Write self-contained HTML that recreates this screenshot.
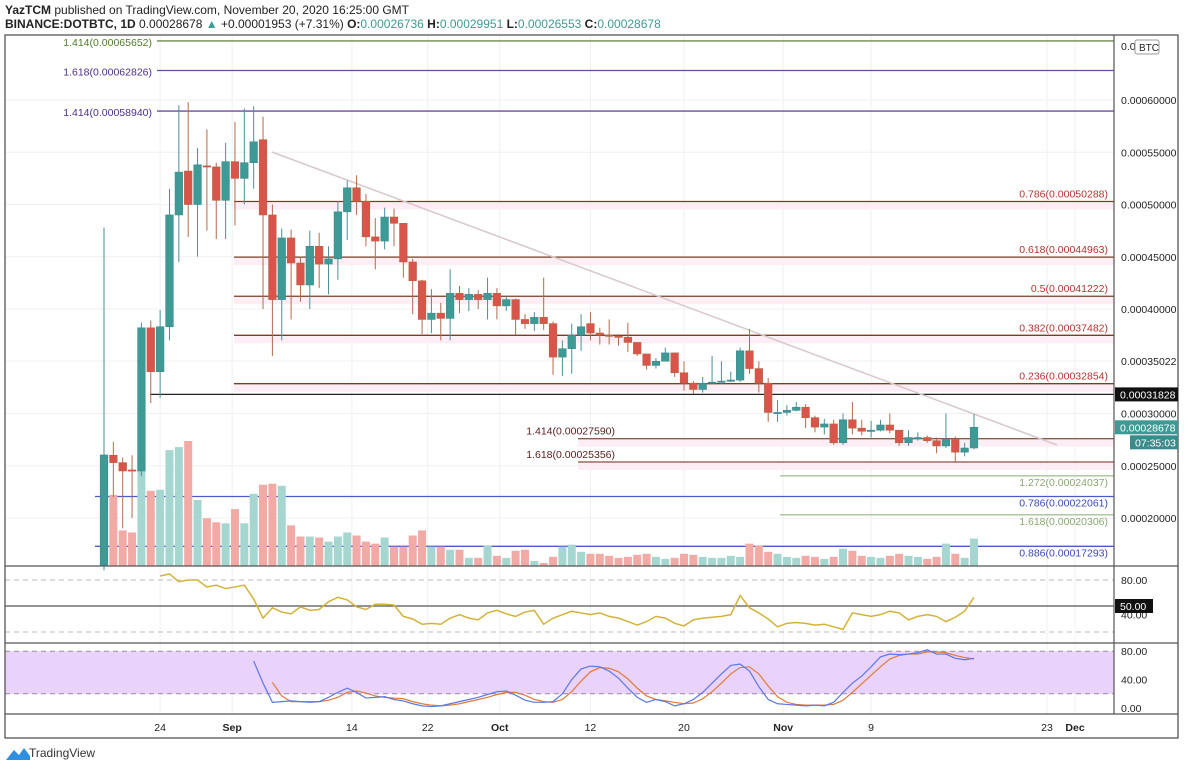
<!DOCTYPE html>
<html><head><meta charset="utf-8">
<style>
html,body{margin:0;padding:0;background:#fff;}
body{width:1185px;height:768px;overflow:hidden;font-family:"Liberation Sans",sans-serif;}
svg text{font-family:"Liberation Sans",sans-serif;}
</style></head>
<body>
<svg id="chart" width="1185" height="768" viewBox="0 0 1185 768" xmlns="http://www.w3.org/2000/svg">
  <text x="5" y="14" font-size="12" fill="#222"><tspan font-weight="bold">YazTCM</tspan> published on TradingView.com, November 20, 2020 16:25:00 GMT</text>
  <text x="5" y="28" font-size="12" fill="#222"><tspan font-weight="bold">BINANCE:DOTBTC, 1D</tspan> 0.00028678 <tspan fill="#3d9a94">▲</tspan> +0.00001953 (+7.31%) <tspan font-weight="bold">O:</tspan><tspan fill="#3d9a94">0.00026736</tspan> <tspan font-weight="bold">H:</tspan><tspan fill="#3d9a94">0.00029951</tspan> <tspan font-weight="bold">L:</tspan><tspan fill="#3d9a94">0.00026553</tspan> <tspan font-weight="bold">C:</tspan><tspan fill="#3d9a94">0.00028678</tspan></text>
  <g id="grid"></g>
  <g id="fibs"></g>
  <g id="vol"></g>
  <g id="candles"></g>
  <g id="rsi"></g>
  <g id="stoch"></g>
  <g id="axes"></g>
  <g>
    <path d="M6 760 L14 750 L19 755 L24 748 L30 756 L30 760 Z" fill="#2f8fe0"/>
    <text x="29" y="757" font-size="12" fill="#333">TradingView</text>
  </g>
</svg>
<script>
const opens=[15.5,26,25.3,24.6,24.5,38.2,34,38.3,49,53.2,50,53.7,53.6,50.4,54.1,52.5,54,56.2,49,40.9,46.8,44.4,42.3,46,44.3,44.8,49.3,51.6,50.3,46.9,46.5,48.8,48.2,44.5,42.7,39,39.6,39.1,41.5,40.9,41.4,40.9,41.5,40.3,40.9,39,38.6,39.2,38.6,35.4,36.2,37.5,38.6,37.7,37.5,37.4,37.3,36.8,35.7,34.6,35,35.8,33.9,32.9,32.3,32.9,33,33.1,33.2,36,34.3,32.9,30.1,30.1,30.3,30.6,29.6,28.7,29,27.2,29.4,28.6,28.4,28.4,28.9,28.4,27.2,27.7,27.7,27.4,26.9,27.5,26.3,26.7];
const highs=[47.8,27.3,25.8,26,38.7,38.9,39.9,51.5,59.5,59.8,55.4,57.2,54,55.9,57.9,59.2,59.4,58.4,50,47.7,47.6,45,47.5,47.3,46,50.3,52.3,52.8,51,48.7,49.7,49.6,48.2,44.8,42.8,41.9,40.6,43.8,42.2,42,41.8,43,42,41.2,41,39.5,39.7,43,38.8,37,38.6,39.5,39.7,38.2,39,37.6,38.7,36.8,35.7,35.3,36.3,35.8,35,33.1,33.5,35.5,35,34,36.3,38.1,35,33.4,31.3,30.8,31.1,30.9,29.8,29.5,29.4,30,31.1,29.4,29.3,29.4,30,28.4,28.4,28.2,27.9,27.7,30,27.8,27.2,29.95];
const lows=[15,22,19,20,24,31,31.5,37,44.5,46.9,45,47.5,46.7,46.7,48,50,51.5,40,35.5,37,39,40.7,40,42,41.4,42.8,46.6,49,46,43.8,45.7,46,43,39.5,37.6,37.7,37,37,39.6,39.8,40,39,39,39.8,37.5,38.1,37.9,38,33.7,33.6,33.8,36,37,36.6,36.6,36.5,35.9,35.5,34.2,34.3,35,33.5,32.2,31.9,32,32.9,32.8,33,33,33.8,32,29.2,29.2,29.8,30.2,28.6,28.2,28,27,27,28,27.9,27.7,28.3,28.1,26.9,26.9,27.4,27.2,26.2,26.7,25.4,25.9,26.55];
const closes=[26,25.3,24.5,24.5,38.2,34,38.3,49,53.1,50,53.8,53.6,50.4,54.1,52.5,54,56,49,40.9,46.8,44.4,42.3,46,44.3,44.8,49.3,51.6,50.3,46.9,46.5,48.8,48.2,44.5,42.7,39,39.6,39.1,41.5,40.9,41.4,40.9,41.5,40.3,40.9,39,38.6,39.2,38.6,35.4,36.2,37.5,38.3,37.7,37.5,37.4,37.3,36.8,35.7,34.6,35,35.8,33.9,32.9,32.3,32.9,33,33.1,33.2,36,34.3,32.9,30.1,30.1,30.3,30.6,29.6,28.7,29,27.2,29.4,28.6,28.3,28.4,28.9,28.4,27.2,27.7,27.7,27.4,26.9,27.5,26.3,26.7,28.68];
const volumes=[110,70,35,33,105,74,75,114,117,123,65,47,43,42,56,42,71,80,81,79,40,29,29,28,24,29,33,30,24,22,28,19,19,30,35,19,19,16,16,8,8,20,10,8,15,16,5,3,9,19,21,14,12,12,10,8,9,11,12,9,7,8,12,11,9,8,8,10,9,22,20,14,12,9,8,10,9,7,9,17,15,10,9,8,10,12,10,9,7,9,22,12,8,27];
const rsiStart=6;
const rsiValues=[84.6,87,78,80,80,72,74,70,72,74,58,36,48,43,41,49,45,46,55,60,57,49,46,52,52,51,38,35,29,30,29,36,40,36,34,42,45,41,38,43,45,29,36,40,44,42,40,42,38,36,32,28,32,38,36,30,27,34,36,37,38,40,62,48,42,35,26,30,31,30,28,29,26,23,42,40,38,40,44,42,34,38,40,38,32,37,44,60];
const kStart=16;
const kValues=[66,35,8,9,10,9,8,9,15,22,28,22,14,15,16,12,10,6,3,2,3,6,9,12,15,19,23,24,18,11,8,8,9,20,40,55,59,58,52,42,28,15,8,12,9,3,6,12,22,35,48,60,62,52,30,12,6,5,4,3,4,3,8,22,35,45,58,72,76,75,76,78,82,76,76,70,68,70];
const dStart=18;
const dValues=[36,17,9,9,9,9,11,15,22,24,21,17,15,14,13,9,6,4,3,4,6,9,12,15,19,22,22,18,12,9,8,12,23,38,51,57,56,51,41,28,17,12,10,8,6,7,13,23,35,48,57,58,48,31,16,8,5,4,4,4,5,11,22,34,46,58,69,74,76,76,79,79,78,74,71,69];
const timeTickLabels=["24","Sep","14","22","Oct","12","20","Nov","9","23","Dec"];
const timeTickIdx=[6,13.7,26.5,34.6,42.3,52,62,72.6,82,100.8,103.8];
const priceTickLabels=["0.00060000","0.00055000","0.00050000","0.00045000","0.00040000","0.00035022","0.00030000","0.00025000","0.00020000"];
const priceTickValues=[60,55,50,45,40,35.022,30,25,20];
const rsiTicks=[80,40];
const stochTicks=[80,40,0];
// fib levels: [label, value, color, labelColor, x-start index, label side]
const fibLabels=["1.414(0.00065652)","1.618(0.00062826)","1.414(0.00058940)","0.786(0.00050288)","0.618(0.00044963)","0.5(0.00041222)","0.382(0.00037482)","0.236(0.00032854)","1.414(0.00027590)","1.618(0.00025356)","1.272(0.00024037)","0.786(0.00022061)","1.618(0.00020306)","0.886(0.00017293)"];
const fibValues=[65.652,62.826,58.940,50.288,44.963,41.222,37.482,32.854,27.590,25.356,24.037,22.061,20.306,17.293];

const NS="http://www.w3.org/2000/svg";
function mk(tag,attrs,parent){const e=document.createElementNS(NS,tag);for(const k in attrs)e.setAttribute(k,attrs[k]);parent.appendChild(e);return e;}
const L=5,R=1114,RB=1178,TOP=35,MAINB=566,RSIB=643,STB=714,BOT=738;
const N=opens.length;
const xOf=i=>104+i*(974-104)/93;
const yP=p=>100+(60-p)*10.45;
const yR=v=>606-(v-50)*0.867;
const yS=v=>708-v*0.71;
const volMax=Math.max(...volumes);
const yV=v=>MAINB-v/volMax*125;

const grid=document.getElementById('grid');
timeTickIdx.forEach((t,i)=>{const l=mk('line',{x1:xOf(t),x2:xOf(t),y1:TOP,y2:STB,stroke:'#f0f0f3','stroke-width':1},grid);});
priceTickValues.forEach(v=>{const l=mk('line',{x1:L,x2:R,y1:yP(v),y2:yP(v),stroke:'#f0f0f3'},grid);});

// fib lines
const fibs=document.getElementById('fibs');
const fibColor=['#6d8a4a','#6a4aa6','#6a4aa6','#7a3c22','#7a3c22','#7a3c22','#7a3c22','#7a3c22','#8a5a4a','#8a4a3a','#a8c098','#4a5ac8','#a8c098','#4a5ac8'];
const fibTxt=['#4f7a2e','#4a2f8a','#4a2f8a','#b5332d','#b5332d','#b5332d','#b5332d','#b5332d','#5a2020','#5a2020','#8aa870','#3a48b8','#8aa870','#3a48b8'];
const fibX0=[157,157,157,234,234,234,234,234,578,578,780,95,780,95];
fibValues.forEach((v,i)=>{
  const y=yP(v);
  if(i>=3&&i<=9){const b=mk('rect',{x:fibX0[i],y:y+1,width:R-fibX0[i],height:7,fill:'#fdeef5'},fibs);}
  const l=mk('line',{x1:fibX0[i],x2:R,y1:y,y2:y,stroke:fibColor[i],'stroke-width':1.3},fibs);
  
  
  let tx,ty,anchor;
  if(i<3){tx=152;ty=y+5;anchor='end';}
  else if(i<8){tx=1108;ty=y-4;anchor='end';}
  else if(i<10){tx=615;ty=y-4;anchor='end';}
  else {tx=1108;ty=y+10;anchor='end';}
  const t=mk('text',{x:tx,y:ty,'font-size':10.5,fill:fibTxt[i],'text-anchor':anchor},fibs);
  t.textContent=fibLabels[i];
  
  
});
const bl=mk('line',{x1:150,x2:R,y1:yP(31.828),y2:yP(31.828),stroke:'#222','stroke-width':1.2},fibs);


const tl=mk('line',{x1:272,y1:152,x2:1057,y2:445,stroke:'#d8c8cc','stroke-width':1.5},fibs);



// volume
const vol=document.getElementById('vol');
volumes.forEach((v,i)=>{const up=closes[i]>=opens[i];const r=mk('rect',{x:xOf(i)-4,y:yV(v),width:8,height:MAINB-yV(v),fill:up?'#a6d6d0':'#f1aaa5'},vol);});

// candles
const cg=document.getElementById('candles');
for(let i=0;i<N;i++){
  const up=closes[i]>=opens[i];const c=up?'#3d9a94':'#d9554b';const x=xOf(i);
  const w=mk('line',{x1:x,x2:x,y1:yP(highs[i]),y2:yP(lows[i]),stroke:up?'#4a8f99':'#b46a4a','stroke-width':1},cg);
  
  
  const top=yP(Math.max(opens[i],closes[i])),bot=yP(Math.min(opens[i],closes[i]));
  const b=mk('rect',{x:x-3.8,y:top,width:7.6,height:Math.max(1.2,bot-top),fill:c,stroke:up?'#3d8a94':'#b5653f','stroke-width':0.6},cg);
  
  
}

// RSI pane
const rg=document.getElementById('rsi');
[80,20].forEach(v=>{const l=mk('line',{x1:L,x2:R,y1:yR(v),y2:yR(v),stroke:'#bbb','stroke-dasharray':'5,4'},rg);});
const rm=mk('line',{x1:L,x2:R,y1:yR(50),y2:yR(50),stroke:'#555','stroke-width':1.3},rg);


const rp=mk('polyline',{points:rsiValues.map((v,k)=>xOf(k+rsiStart)+','+yR(v)).join(' '),fill:'none',stroke:'#d4b23a','stroke-width':1.5},rg);



// Stoch pane
const sg=document.getElementById('stoch');
const bf=mk('rect',{x:L,y:yS(80),width:R-L,height:yS(20)-yS(80),fill:'#e9d2fb'},sg);


[80,20].forEach(v=>{const l=mk('line',{x1:L,x2:R,y1:yS(v),y2:yS(v),stroke:'#9a8aa8','stroke-dasharray':'5,4'},sg);});
const dp=mk('polyline',{points:dValues.map((v,k)=>xOf(k+dStart)+','+yS(v)).join(' '),fill:'none',stroke:'#e07a3a','stroke-width':1.2},sg);


const kp=mk('polyline',{points:kValues.map((v,k)=>xOf(k+kStart)+','+yS(v)).join(' '),fill:'none',stroke:'#5a78e8','stroke-width':1.2},sg);



// axes / frame
const ax=document.getElementById('axes');
const fr=mk('rect',{x:L,y:TOP,width:RB-L,height:BOT-TOP,fill:'none',stroke:'#555','stroke-width':1.3},ax);


[[R,TOP,R,STB],[L,MAINB,RB,MAINB],[L,RSIB,RB,RSIB],[L,STB,RB,STB]].forEach(s=>{const l=mk('line',{x1:s[0],y1:s[1],x2:s[2],y2:s[3],stroke:'#555','stroke-width':1.2},ax);});
priceTickValues.forEach((v,i)=>{const t=mk('text',{x:1121,y:yP(v)+4,'font-size':10.5,fill:'#222'},ax);t.textContent=priceTickLabels[i];});
const t0=mk('text',{x:1121,y:50,'font-size':10.5,fill:'#222'},ax);t0.textContent='0.0';


const bb=mk('rect',{x:1135,y:40,width:24,height:14,rx:2,fill:'#fff',stroke:'#999'},ax);


const bt=mk('text',{x:1139,y:51,'font-size':10,fill:'#222'},ax);bt.textContent='BTC';


function tag(y,txt,bg,nm,x){const r=mk('rect',{x:x||1115,y:y-7,width:(x?1178-x:63),height:14,fill:bg},ax);const t=mk('text',{x:(x||1115)+5,y:y+4,'font-size':10.5,fill:'#fff'},ax);t.textContent=txt;}
tag(yP(31.828),'0.00031828','#111','support-price-tag');
tag(yP(28.678),'0.00028678','#3d9a94','last-price-tag');
tag(yP(28.678)+15,'07:35:03','#3d8a8a','countdown-tag',1130);
rsiTicks.forEach(v=>{const t=mk('text',{x:1121,y:yR(v)+4,'font-size':10.5,fill:'#222'},ax);t.textContent=v.toFixed(2);});
tag(yR(50),'50.00','#111','rsi-mid-tag');
ax.lastChild.previousSibling.setAttribute('width',38);
stochTicks.forEach(v=>{const t=mk('text',{x:1121,y:yS(v)+4,'font-size':10.5,fill:'#222'},ax);t.textContent=v.toFixed(2);});
timeTickLabels.forEach((s,i)=>{const bold=isNaN(+s);const t=mk('text',{x:xOf(timeTickIdx[i]),y:731,'font-size':10.5,fill:'#222','text-anchor':'middle','font-weight':bold?'bold':'normal'},ax);t.textContent=s;});
</script>
</body></html>
